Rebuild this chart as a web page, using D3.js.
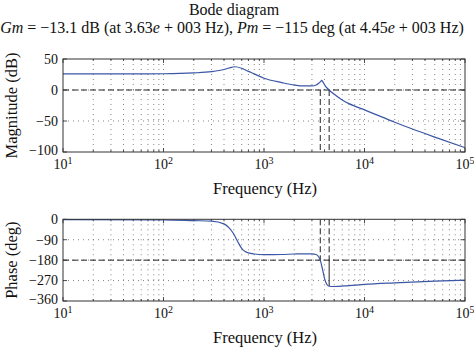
<!DOCTYPE html>
<html><head><meta charset="utf-8">
<script src="https://cdn.jsdelivr.net/npm/d3@7"></script>
<style>body{margin:0;background:#fff}svg{display:block}text{font-family:"Liberation Serif","DejaVu Serif",serif;fill:#111}</style>
</head><body><svg id="c" width="474" height="353"></svg>
<script>
// Data
const magFreq = [10,50,100,200,300,400,450,516,600,700,800,1000,1500,2000,2500,3000,3300,3500,3630,3750,3850,4100,4450,5000,6000,7000,8000,10000,20000,30000,50000,100000];
const magDb   = [26,26,26.2,27.5,29.5,33,35.5,37.5,35,30,26,19,12,8,6.5,6.5,8,11,13.1,15.5,13,6,0,-7,-16,-22,-26,-32,-52,-63,-76,-93];
const phFreq = [10,100,200,300,400,450,500,550,600,650,700,800,1000,1500,2000,2500,3000,3300,3500,3630,3800,4000,4200,4450,5000,7000,10000,20000,50000,100000];
const phDeg  = [-1,-3,-6,-8,-20,-38,-65,-100,-128,-142,-148,-153,-156,-155,-153,-152,-152,-155,-165,-180,-215,-260,-285,-295,-296,-292,-287,-280,-272,-268];
const magTicks = [50,0,-50,-100];
const phTicks = [0,-90,-180,-270,-360];
const decades = [1,2,3,4,5];
const gm = {freq:3630, db:-13.1};
const pm = {freq:4450, deg:-115};
const titleText = "Bode diagram";
const xLabel = "Frequency (Hz)";

const svg = d3.select("#c");
const X0=63, X1=465;
const x = d3.scaleLog().domain([10,1e5]).range([X0,X1]);
const yM = d3.scaleLinear().domain([-100,50]).range([152,59]);
const yP = d3.scaleLinear().domain([-360,0]).range([301,219.3]);

const minors=[];
for(let d=1;d<5;d++) for(let k=2;k<=9;k++) minors.push(k*Math.pow(10,d));
const majors = decades.map(d=>Math.pow(10,d));

function panel(y, ticks, label){
  const g = svg.append("g");
  const [yb,yt] = y.range();
  const grid = g.append("g").attr("stroke","#666").attr("stroke-width",0.8).attr("stroke-dasharray","1,4");
  minors.concat(majors.slice(1,-1)).forEach(f=>{
    grid.append("line").attr("x1",x(f)).attr("x2",x(f)).attr("y1",yt).attr("y2",yb);
  });
  ticks.slice(1,-1).forEach(t=>{
    grid.append("line").attr("x1",X0).attr("x2",X1).attr("y1",y(t)).attr("y2",y(t));
  });
  const tk = g.append("g").attr("stroke","#222").attr("stroke-width",0.8);
  majors.forEach(f=>{
    tk.append("line").attr("x1",x(f)).attr("x2",x(f)).attr("y1",yb).attr("y2",yb-4);
    tk.append("line").attr("x1",x(f)).attr("x2",x(f)).attr("y1",yt).attr("y2",yt+4);
  });
  minors.forEach(f=>{
    tk.append("line").attr("x1",x(f)).attr("x2",x(f)).attr("y1",yb).attr("y2",yb-2);
    tk.append("line").attr("x1",x(f)).attr("x2",x(f)).attr("y1",yt).attr("y2",yt+2);
  });
  ticks.forEach(t=>{
    tk.append("line").attr("x1",X0).attr("x2",X0+4).attr("y1",y(t)).attr("y2",y(t));
    tk.append("line").attr("x1",X1).attr("x2",X1-4).attr("y1",y(t)).attr("y2",y(t));
  });
  ticks.forEach((t,i)=>{
    g.append("text").attr("x",X0-5).attr("y",y(t)).attr("dy",i===ticks.length-1?"0.2em":"0.35em").attr("text-anchor","end")
      .attr("font-size",14).text(t<0?"\u2212"+(-t):String(t));
  });
  decades.forEach(d=>{
    const t = g.append("text").attr("x",x(Math.pow(10,d))).attr("y",yb+17).attr("text-anchor","middle").attr("font-size",14);
    t.append("tspan").text("10");
    t.append("tspan").attr("font-size",10).attr("dy",-5).text(d);
  });
  g.append("text").attr("x",(X0+X1)/2+1).attr("y",yb+42).attr("text-anchor","middle").attr("font-size",16.5).text(xLabel);
  g.append("text").attr("transform",`translate(17,${(yb+yt)/2}) rotate(-90)`).attr("text-anchor","middle").attr("font-size",16.5).text(label);
  return g;
}

const gM = panel(yM, magTicks, "Magnitude (dB)");
const gP = panel(yP, phTicks, "Phase (deg)");

const dash = "6,3";
gM.append("line").attr("x1",X0).attr("x2",X1).attr("y1",yM(0)).attr("y2",yM(0)).attr("stroke","#222").attr("stroke-width",1).attr("stroke-dasharray",dash);
[gm.freq,pm.freq].forEach(f=>{
  gM.append("line").attr("x1",x(f)).attr("x2",x(f)).attr("y1",yM(0)).attr("y2",yM(-100)).attr("stroke","#222").attr("stroke-width",1).attr("stroke-dasharray",dash);
});
gP.append("line").attr("x1",X0).attr("x2",X1).attr("y1",yP(-180)).attr("y2",yP(-180)).attr("stroke","#222").attr("stroke-width",1).attr("stroke-dasharray",dash);
[gm.freq,pm.freq].forEach(f=>{
  gP.append("line").attr("x1",x(f)).attr("x2",x(f)).attr("y1",yP(0)).attr("y2",yP(-180)).attr("stroke","#222").attr("stroke-width",1).attr("stroke-dasharray",dash);
});
gP.append("line").attr("x1",x(pm.freq)).attr("x2",x(pm.freq)).attr("y1",yP(-180)).attr("y2",yP(-180+pm.deg)).attr("stroke","#222").attr("stroke-width",1);

const blue="#3a56a5";
gM.append("path").datum(magFreq.map((f,i)=>[f,magDb[i]]))
  .attr("d",d3.line().x(d=>x(d[0])).y(d=>yM(d[1])).curve(d3.curveMonotoneX))
  .attr("fill","none").attr("stroke",blue).attr("stroke-width",1.2);
gP.append("path").datum(phFreq.map((f,i)=>[f,phDeg[i]]))
  .attr("d",d3.line().x(d=>x(d[0])).y(d=>yP(d[1])).curve(d3.curveMonotoneX))
  .attr("fill","none").attr("stroke",blue).attr("stroke-width",1.2);

[yM,yP].forEach(y=>{
  const [yb,yt]=y.range();
  svg.append("rect").attr("x",X0).attr("y",yt).attr("width",X1-X0).attr("height",yb-yt).attr("fill","none").attr("stroke","#333").attr("stroke-width",1);
});

svg.append("text").attr("x",234).attr("y",15).attr("text-anchor","middle").attr("font-size",16).text(titleText);
const t2 = svg.append("text").attr("x",232).attr("y",33).attr("text-anchor","middle").attr("font-size",16);
t2.append("tspan").attr("font-style","italic").text("Gm");
t2.append("tspan").text(" = \u221213.1 dB (at 3.63");
t2.append("tspan").attr("font-style","italic").text("e");
t2.append("tspan").text(" + 003 Hz), ");
t2.append("tspan").attr("font-style","italic").text("Pm");
t2.append("tspan").text(" = \u2212115 deg (at 4.45");
t2.append("tspan").attr("font-style","italic").text("e");
t2.append("tspan").text(" + 003 Hz)");
</script></body></html>
